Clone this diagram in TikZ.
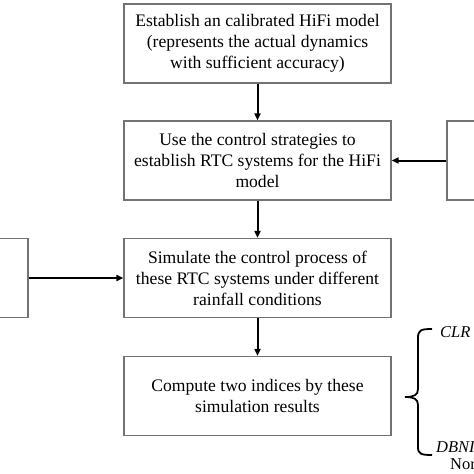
\documentclass[tikz,border=0pt]{standalone}
\usepackage{fontspec}
\setmainfont{Liberation Serif}
\usetikzlibrary{arrows.meta}
\begin{document}
\begin{tikzpicture}[x=1pt,y=-1pt,
  box/.style={draw=black!55,line width=1.2pt,minimum width=267pt,minimum height=79pt,align=center,inner sep=1pt,font=\fontsize{17.6}{21}\selectfont},
  sidebox/.style={draw=black!55,line width=1.2pt,minimum width=156pt,minimum height=79pt},
  conn/.style={line width=2pt,-{Triangle[length=7pt,width=6pt]}},
  lab/.style={font=\fontsize{16.5}{20}\selectfont,anchor=base west,inner sep=0pt}]
\useasboundingbox (0,0) rectangle (474,474);
\clip (0,0) rectangle (474,474);
\node[box] (b1) at (257.5,43.5) {Establish an calibrated HiFi model\\(represents the actual dynamics\\with sufficient accuracy)};
\node[box] (b2) at (257.5,160.5) {Use the control strategies to\\establish RTC systems for the HiFi\\model};
\node[box] (b3) at (257.5,278) {Simulate the control process of\\these RTC systems under different\\rainfall conditions};
\node[box] (b4) at (257.5,396) {Compute two indices by these\\simulation results};
\node[sidebox] (r) at (525,160.5) {};
\node[sidebox] (l) at (-50,278) {};
\draw[conn] (b1) -- (b2);
\draw[conn] (b2) -- (b3);
\draw[conn] (b3) -- (b4);
\draw[conn] (r.west) -- (b2.east);
\draw[conn] (l.east) -- (b3.west);
\coordinate (tip) at (405,397);
\draw[line width=1.8pt] (432,329) .. controls (421,329) and (418,330) .. (418,338) -- (418,389) .. controls (418,395) and (414,397) .. (tip) .. controls (414,397) and (418,399) .. (418,405) -- (418,447) .. controls (418,454) and (421,455) .. (432,455);
\node[lab] (clr) at (440,337) {\textit{CLR}};
\node[lab] (dbn) at (436,452) {\textit{DBNI}};
\node[lab] (nor) at (450,469) {Nor};
\end{tikzpicture}
\end{document}
